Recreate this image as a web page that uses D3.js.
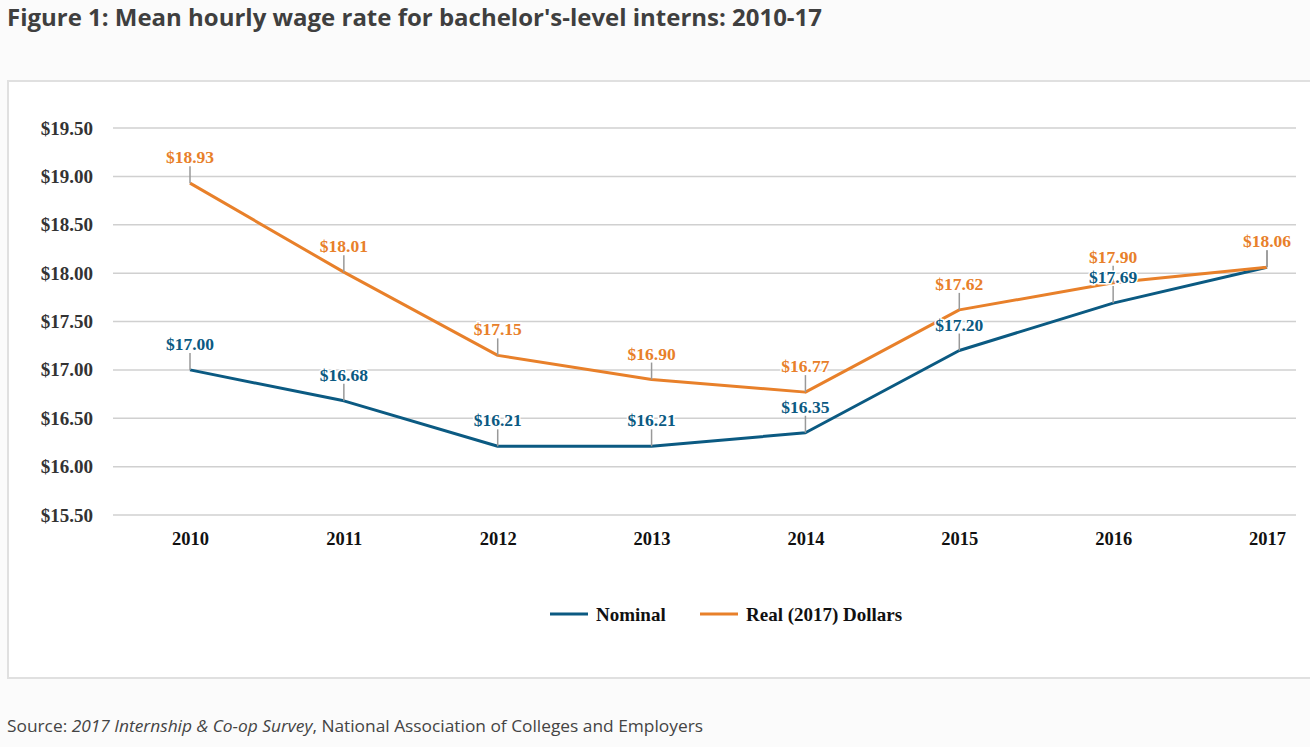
<!DOCTYPE html>
<html>
<head>
<meta charset="utf-8">
<script src="https://cdn.jsdelivr.net/npm/d3@7"></script>
<style>
  body { margin: 0; background: #fbfbfb; }
  #chart { width: 1310px; height: 747px; }
</style>
</head>
<body>
<div id="chart"></div>
<script>
"use strict";

// Data
const years = [2010, 2011, 2012, 2013, 2014, 2015, 2016, 2017];
const nominal = [17.00, 16.68, 16.21, 16.21, 16.35, 17.20, 17.69, 18.06];
const real2017 = [18.93, 18.01, 17.15, 16.90, 16.77, 17.62, 17.90, 18.06];
const yTicks = [15.5, 16, 16.5, 17, 17.5, 18, 18.5, 19, 19.5];
const seriesNames = ["Nominal", "Real (2017) Dollars"];

const blue = "#0b5a82", orange = "#e8802a";
const serif = "'Liberation Serif', 'Times New Roman', serif";

const width = 1310, height = 747;
const svg = d3.select("#chart").append("svg")
    .attr("width", width).attr("height", height);

// Title
svg.append("text")
    .attr("x", 7).attr("y", 26)
    .attr("font-family", "'Open Sans', sans-serif")
    .attr("font-weight", 700)
    .attr("font-size", 24)
    .attr("fill", "#3f3f3f")
    .attr("textLength", 815)
    .attr("lengthAdjust", "spacingAndGlyphs")
    .text("Figure 1: Mean hourly wage rate for bachelor's-level interns: 2010-17");

// Chart box
svg.append("rect")
    .attr("x", 8).attr("y", 81)
    .attr("width", 1310).attr("height", 597)
    .attr("fill", "#fff")
    .attr("stroke", "#e0e0e0").attr("stroke-width", 2);

// Scales
const x = d3.scalePoint().domain(years).range([190, 1267]);
const y = d3.scaleLinear().domain([15.5, 19.5]).range([515, 128]);

// Gridlines
svg.append("g").selectAll("line")
    .data(yTicks)
    .join("line")
    .attr("x1", 113).attr("x2", 1296)
    .attr("y1", d => y(d)).attr("y2", d => y(d))
    .attr("stroke", "#d0d0d0").attr("stroke-width", 1.5);

// Y axis labels
const yAxis = svg.append("g")
    .attr("transform", "translate(105,0)")
    .call(d3.axisLeft(y).tickValues(yTicks).tickSize(0).tickPadding(12)
        .tickFormat(d => "$" + d.toFixed(2)));
yAxis.select(".domain").remove();
yAxis.selectAll("text")
    .attr("font-family", serif)
    .attr("font-weight", 700)
    .attr("font-size", 19)
    .attr("fill", "#333");

// X axis labels
const xAxis = svg.append("g")
    .attr("transform", "translate(0,527)")
    .call(d3.axisBottom(x).tickSize(0).tickPadding(0));
xAxis.select(".domain").remove();
xAxis.selectAll("text")
    .attr("dy", "0.95em")
    .attr("font-family", serif)
    .attr("font-weight", 700)
    .attr("font-size", 18.5)
    .attr("fill", "#111");

const series = [
    { name: seriesNames[0], values: nominal, color: blue },
    { name: seriesNames[1], values: real2017, color: orange }
];

const line = d3.line()
    .x((d, i) => x(years[i]))
    .y(d => y(d));

// Lines
svg.append("g").selectAll("path")
    .data(series)
    .join("path")
    .attr("d", d => line(d.values))
    .attr("fill", "none")
    .attr("stroke", d => d.color)
    .attr("stroke-width", 3)
    .attr("stroke-linejoin", "round");

// Leader lines
series.forEach(s => {
    svg.append("g").selectAll("line")
        .data(s.values)
        .join("line")
        .attr("x1", (d, i) => x(years[i])).attr("x2", (d, i) => x(years[i]))
        .attr("y1", d => y(d) - 17).attr("y2", d => y(d))
        .attr("stroke", "#999").attr("stroke-width", 1.5);
});

// Data labels (white halo so they read over the other line)
series.forEach(s => {
    svg.append("g").selectAll("text")
        .data(s.values)
        .join("text")
        .attr("x", (d, i) => x(years[i]))
        .attr("y", d => y(d) - 20)
        .attr("text-anchor", "middle")
        .attr("font-family", serif)
        .attr("font-weight", 700)
        .attr("font-size", 17.5)
        .attr("fill", s.color)
        .attr("stroke", "#fff")
        .attr("stroke-width", 3)
        .attr("paint-order", "stroke")
        .text(d => "$" + d.toFixed(2));
});

// Legend
const legendX = [550, 700];
const legend = svg.append("g").selectAll("g")
    .data(series)
    .join("g")
    .attr("transform", (d, i) => `translate(${legendX[i]},614)`);
legend.append("line")
    .attr("x1", 0).attr("x2", 38)
    .attr("stroke", d => d.color).attr("stroke-width", 3);
legend.append("text")
    .attr("x", 46).attr("dy", "0.35em")
    .attr("font-family", serif)
    .attr("font-weight", 700)
    .attr("font-size", 19)
    .attr("fill", "#111")
    .text(d => d.name);

// Source note
const src = svg.append("text")
    .attr("x", 7).attr("y", 732)
    .attr("font-family", "'Open Sans', sans-serif")
    .attr("font-size", 16)
    .attr("fill", "#444")
    .attr("textLength", 696)
    .attr("lengthAdjust", "spacingAndGlyphs");
src.append("tspan").text("Source: ");
src.append("tspan").attr("font-style", "italic").text("2017 Internship & Co-op Survey");
src.append("tspan").text(", National Association of Colleges and Employers");
</script>
</body>
</html>
